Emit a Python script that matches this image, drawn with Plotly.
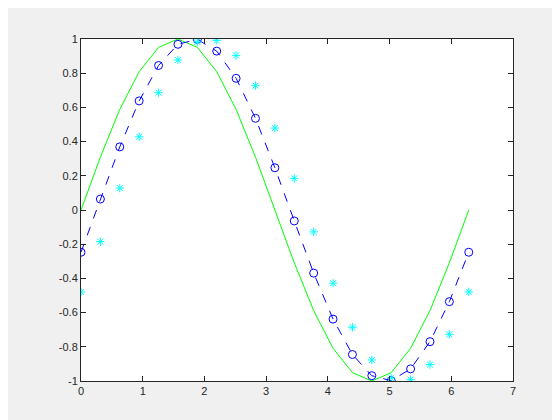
import plotly.graph_objects as go

x = [0, 0.3142, 0.6283, 0.9425, 1.2566, 1.5708, 1.8850, 2.1991, 2.5133, 2.8274, 3.1416,
     3.4558, 3.7699, 4.0841, 4.3982, 4.7124, 5.0265, 5.3407, 5.6549, 5.9690, 6.2832]
y_green = [0, .309, .588, .809, .951, 1, .951, .809, .588, .309, 0,
           -.309, -.588, -.809, -.951, -1, -.951, -.809, -.588, -.309, 0]
y_blue = [-.247, .064, .369, .638, .845, .969, .998, .929, .770, .536, .247,
          -.064, -.369, -.638, -.845, -.969, -.998, -.929, -.770, -.536, -.247]
y_cyan = [-.479, -.185, .128, .428, .686, .877, .983, .992, .904, .727, .479,
          .185, -.128, -.428, -.686, -.877, -.983, -.992, -.904, -.727, -.479]
y_ticks = [-1, -0.8, -0.6, -0.4, -0.2, 0, 0.2, 0.4, 0.6, 0.8, 1]
y_labels = ["-1", "-0.8", "-0.6", "-0.4", "-0.2", "0", "0.2", "0.4", "0.6", "0.8", "1"]
x_ticks = [0, 1, 2, 3, 4, 5, 6, 7]

fig = go.Figure()
fig.add_trace(go.Scatter(x=x, y=y_green, mode="lines", line=dict(color="#00ff00", width=1)))
fig.add_trace(go.Scatter(x=x, y=y_blue, mode="lines+markers",
                         line=dict(color="#0000ff", width=1, dash="dash"),
                         marker=dict(symbol="circle-open", size=8, color="#0000ff")))
fig.add_trace(go.Scatter(x=x, y=y_cyan, mode="markers",
                         marker=dict(symbol="asterisk-open", size=7, color="#00ffff",
                                     line=dict(color="#00ffff", width=1))))

ax = dict(showgrid=False, zeroline=False, showline=True, mirror="ticks", linecolor="#262626",
          linewidth=1, ticks="inside", ticklen=5, tickcolor="#262626", automargin=False,
          tickfont=dict(family="Liberation Sans, Arial", size=11, color="#262626"))
fig.update_layout(
    width=560, height=420, showlegend=False,
    paper_bgcolor="#f0f0f0", plot_bgcolor="white",
    margin=dict(l=73, r=55, t=31, b=47),
    xaxis=dict(range=[0, 7], tickvals=x_ticks, ticktext=[str(v) for v in x_ticks], **ax),
    yaxis=dict(range=[-1, 1], tickvals=y_ticks, ticktext=y_labels, **ax),
)
fig.write_html("out.html")
